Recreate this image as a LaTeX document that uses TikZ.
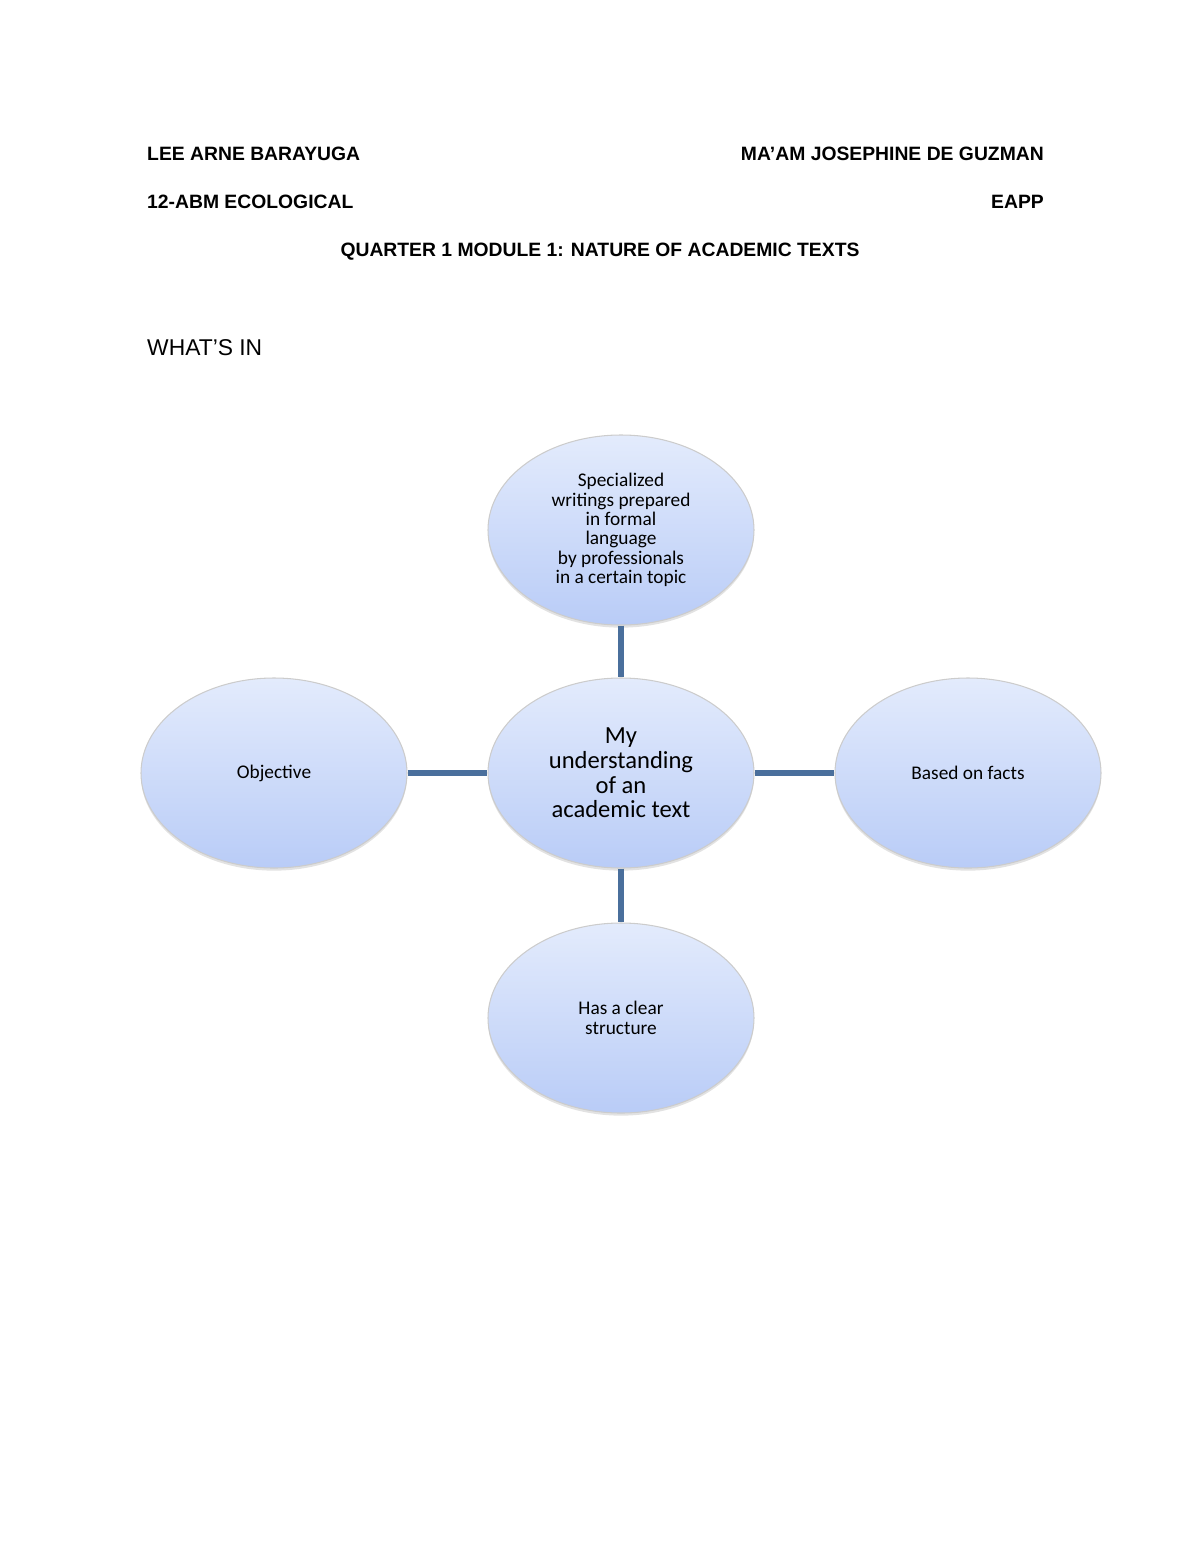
\documentclass[tikz,border=0pt]{standalone}
\usepackage{fontspec}
\setmainfont{Liberation Sans}
\newfontfamily\bubblefont{Carlito}
\usetikzlibrary{shapes.geometric,positioning,shadows}
\definecolor{linkblue}{HTML}{4A6F9C}
\definecolor{bubtop}{HTML}{E3EBFC}
\definecolor{bubbot}{HTML}{B9CCF7}
\tikzset{
  bubble/.style={ellipse, minimum width=266\px, minimum height=190\px, inner sep=0pt,
    top color=bubtop, bottom color=bubbot, draw=gray!40, line width=0.6pt,
    drop shadow={shadow xshift=0pt, shadow yshift=-1.5pt, fill=gray!45},
    align=center, font=\bubblefont\fontsize{11}{11}\selectfont},
  link/.style={draw=linkblue, line width=3pt},
  head/.style={anchor=base west, font=\bfseries\fontsize{11}{13}\selectfont}
}
\newlength{\px}\setlength{\px}{0.02cm}
\begin{document}
\begin{tikzpicture}[x=0.02cm,y=-0.02cm]
\useasboundingbox (0,0) rectangle (1200,1553);

\node[head] (name) at (141,160) {LEE ARNE BARAYUGA};
\node[head, anchor=base east] (teacher) at (1050,160) {MA’AM JOSEPHINE DE GUZMAN};
\node[head] (sect) at (141,208) {12-ABM ECOLOGICAL};
\node[head, anchor=base east] (subj) at (1050,208) {EAPP};
\node[head, anchor=base] (title) at (600,256) {QUARTER 1 MODULE 1: NATURE OF ACADEMIC TEXTS};
\node[head, font=\fontsize{13}{15}\selectfont] (whatsin) at (141,355) {WHAT’S IN};

\node[bubble] (top) at (621,530) {Specialized\\writings prepared\\in formal\\language\\by professionals\\in a certain topic};
\node[bubble, font=\bubblefont\fontsize{14}{14}\selectfont] (mid) at (621,773) {My\\understanding\\of an\\academic text};
\node[bubble] (left) at (274,773) {Objective};
\node[bubble] (right) at (968,773) {Based on facts};
\node[bubble] (bot) at (621,1018) {Has a clear\\structure};

\draw[link] (top) -- (mid);
\draw[link] (mid) -- (bot);
\draw[link] (left) -- (mid);
\draw[link] (mid) -- (right);
\end{tikzpicture}
\end{document}
